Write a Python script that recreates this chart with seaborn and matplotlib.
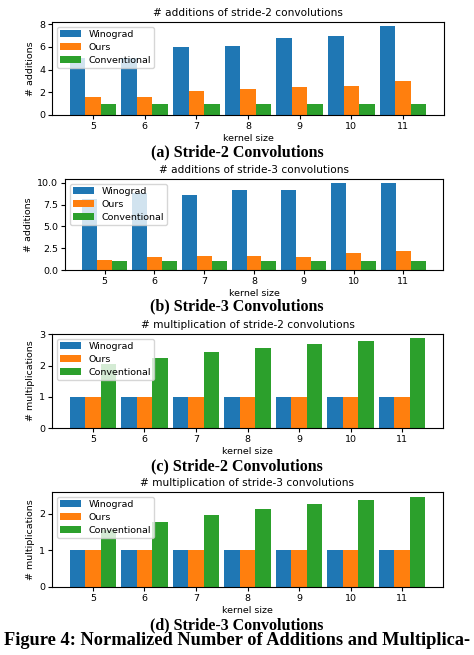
import matplotlib
matplotlib.use("Agg")
import matplotlib.pyplot as plt
from matplotlib.ticker import MultipleLocator
import pandas as pd
import seaborn as sns

kernels = [5, 6, 7, 8, 9, 10, 11]
methods = ["Winograd", "Ours", "Conventional"]
colors = ["#1f77b4", "#ff7f0e", "#2ca02c"]

# additions, stride 2
add_s2_winograd = [5.0, 5.0, 6.0, 6.1, 6.8, 7.0, 7.8]
add_s2_ours = [1.6, 1.55, 2.1, 2.33, 2.47, 2.53, 3.0]
add_s2_conv = [1.0, 1.0, 1.0, 1.0, 1.0, 1.0, 1.0]

# additions, stride 3
add_s3_winograd = [8.2, 8.85, 8.6, 9.2, 9.2, 9.96, 9.96]
add_s3_ours = [1.2, 1.5, 1.63, 1.63, 1.55, 1.93, 2.2]
add_s3_conv = [1.0, 1.0, 1.0, 1.0, 1.0, 1.0, 1.0]

# multiplications, stride 2
mul_s2_winograd = [1.0, 1.0, 1.0, 1.0, 1.0, 1.0, 1.0]
mul_s2_ours = [1.0, 1.0, 1.0, 1.0, 1.0, 1.0, 1.0]
mul_s2_conv = [2.04, 2.25, 2.43, 2.57, 2.68, 2.79, 2.87]

# multiplications, stride 3
mul_s3_winograd = [1.0, 1.0, 1.0, 1.0, 1.0, 1.0, 1.0]
mul_s3_ours = [1.0, 1.0, 1.0, 1.0, 1.0, 1.0, 1.0]
mul_s3_conv = [1.56, 1.77, 1.96, 2.12, 2.26, 2.37, 2.47]

# title, y label, caption, y tick step, series
panels = [
    ("# additions of stride-2 convolutions", "# additions", "(a) Stride-2 Convolutions", 2,
     [add_s2_winograd, add_s2_ours, add_s2_conv]),
    ("# additions of stride-3 convolutions", "# additions", "(b) Stride-3 Convolutions", 2.5,
     [add_s3_winograd, add_s3_ours, add_s3_conv]),
    ("# multiplication of stride-2 convolutions", "# multiplications", "(c) Stride-2 Convolutions", 1,
     [mul_s2_winograd, mul_s2_ours, mul_s2_conv]),
    ("# multiplication of stride-3 convolutions", "# multiplications", "(d) Stride-3 Convolutions", 1,
     [mul_s3_winograd, mul_s3_ours, mul_s3_conv]),
]

W, H = 474, 655
# axes boxes in pixels: left, right, top, bottom
boxes = [(52, 444, 22, 115), (65, 443, 179, 270), (52, 443, 334, 428), (52, 443, 492, 587)]
caption_tops = [144, 298, 458, 617]


def to_frame(series):
    rows = []
    for method, values in zip(methods, series):
        for k, v in zip(kernels, values):
            rows.append({"kernel size": k, "method": method, "value": v})
    return pd.DataFrame(rows)


fig = plt.figure(figsize=(W / 100, H / 100), dpi=100)
serif = ["Liberation Serif", "DejaVu Serif"]

for (title, ylabel, caption, step, series), (l, r, t, b), ct in zip(panels, boxes, caption_tops):
    ax = fig.add_axes([l / W, 1 - b / H, (r - l) / W, (b - t) / H])
    df = to_frame(series)
    sns.barplot(data=df, x="kernel size", y="value", hue="method", hue_order=methods,
                palette=colors, width=0.9, gap=0, saturation=1, ax=ax)
    n = len(kernels)
    pad = 0.05 * (n - 1 + 0.9)
    ax.set_xlim(-0.45 - pad, n - 1 + 0.45 + pad)
    ax.yaxis.set_major_locator(MultipleLocator(step))
    ax.set_title(title, fontsize=7.6, pad=4)
    ax.set_ylabel(ylabel, fontsize=6.8, labelpad=3)
    ax.set_xlabel("kernel size", fontsize=6.8, labelpad=2)
    ax.tick_params(labelsize=6.8, length=3, pad=2)
    sns.move_legend(ax, "upper left", title=None, fontsize=6.8, frameon=True,
                    framealpha=0.8, handlelength=2.2, borderpad=0.35, labelspacing=0.4)
    fig.text(0.5, 1 - ct / H, caption, ha="center", va="top", fontsize=11.5,
             fontweight="bold", family=serif)

fig.text(0.5, 1 - 632 / H, "Figure 4: Normalized Number of Additions and Multiplica-",
         ha="center", va="top", fontsize=13.2, fontweight="bold", family=serif)

fig.savefig("out.png", dpi=100, facecolor="white")
